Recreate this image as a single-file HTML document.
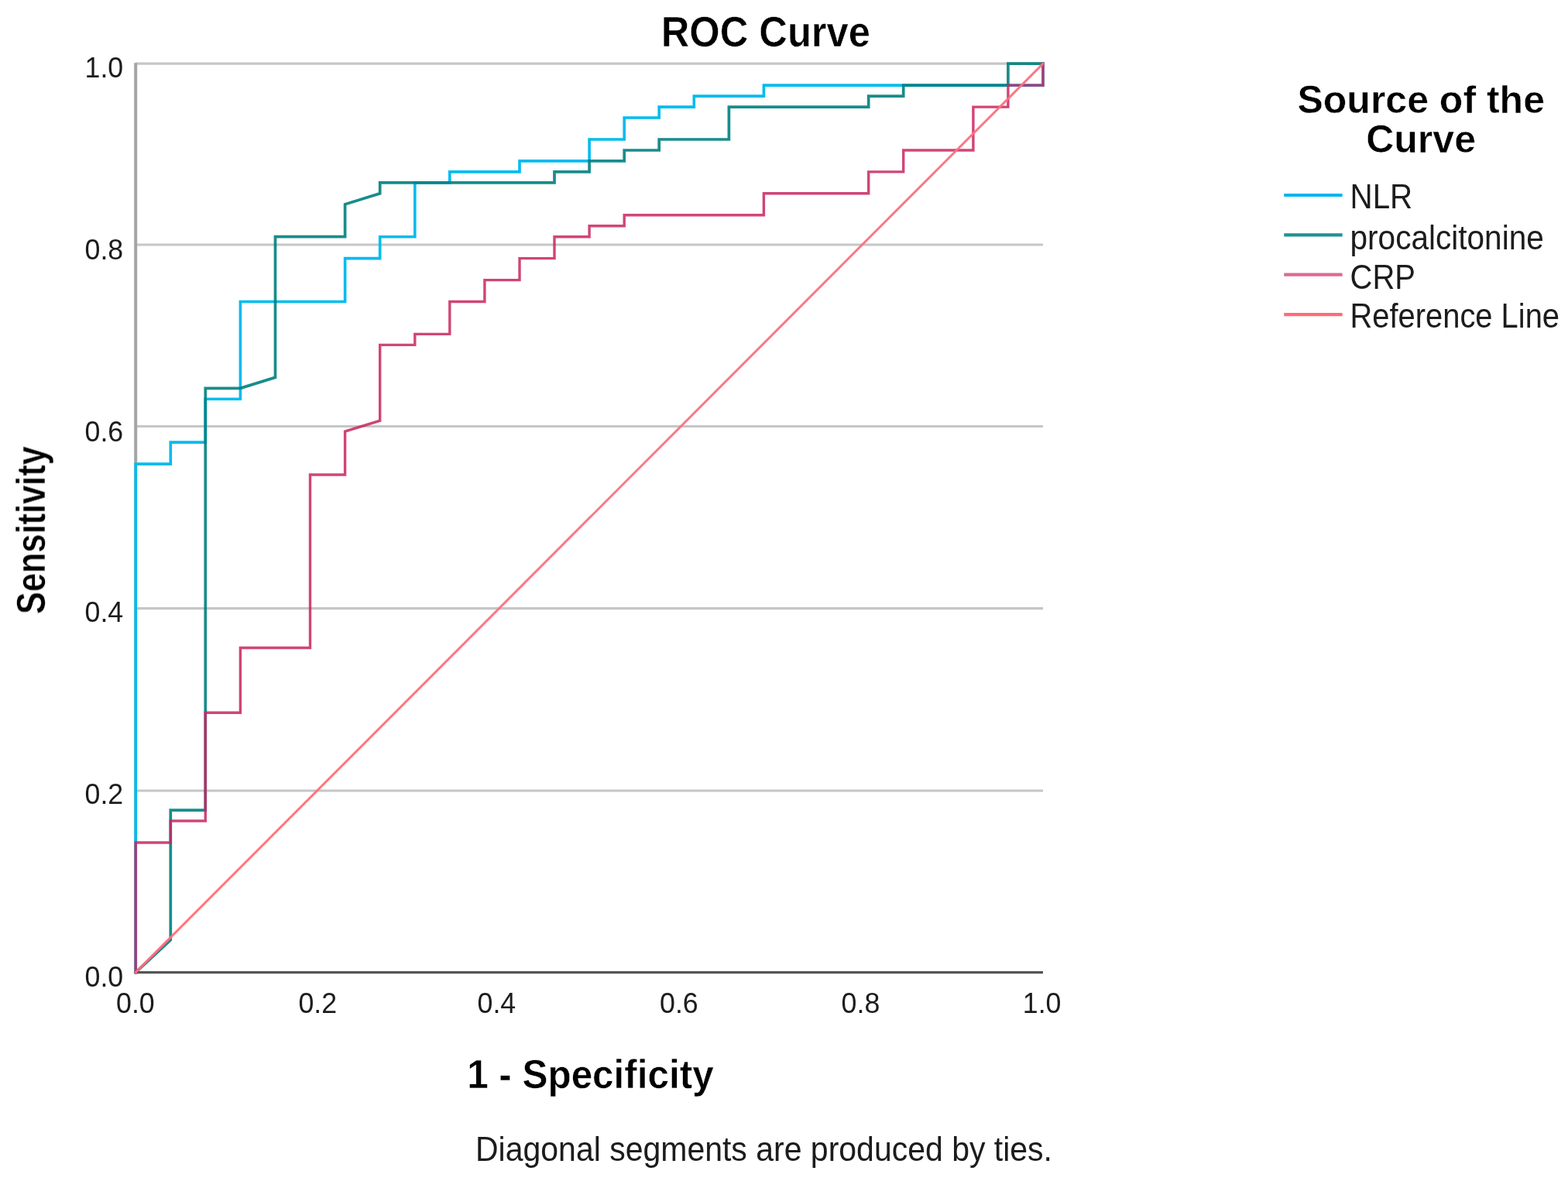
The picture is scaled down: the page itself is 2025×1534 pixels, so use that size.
<!DOCTYPE html>
<html lang="en">
<head>
<meta charset="utf-8">
<title>ROC Curve</title>
<style>
html,body{margin:0;padding:0;background:#fff;}
body{width:2025px;height:1534px;overflow:hidden;}
svg{display:block;}
text{font-family:"Liberation Sans",Arial,Helvetica,sans-serif;}
</style>
</head>
<body>
<svg width="2025" height="1534" viewBox="0 0 2025 1534">
<defs><filter id="soft" x="-5%" y="-5%" width="110%" height="110%"><feGaussianBlur stdDeviation="0.55"/></filter><filter id="softt" x="-2%" y="-2%" width="104%" height="104%"><feGaussianBlur stdDeviation="0.45"/></filter></defs>
<rect width="2025" height="1534" fill="#ffffff"/>
<g stroke="#c6c6c6" stroke-width="3.2" filter="url(#soft)"><line x1="175.2" y1="1021.0" x2="1347.0" y2="1021.0"/><line x1="175.2" y1="785.6" x2="1347.0" y2="785.6"/><line x1="175.2" y1="550.5" x2="1347.0" y2="550.5"/><line x1="175.2" y1="316.0" x2="1347.0" y2="316.0"/><line x1="175.2" y1="82.1" x2="1347.0" y2="82.1"/></g>
<g filter="url(#soft)"><line x1="175.2" y1="81.2" x2="175.2" y2="1257.1" stroke="#a4a4a4" stroke-width="4"/><line x1="173.7" y1="1255.6" x2="1347.0" y2="1255.6" stroke="#555555" stroke-width="3.4"/></g>
<g fill="none" stroke-width="3.4" stroke-linejoin="miter" stroke-linecap="square" filter="url(#soft)">
<path stroke="#00bcee" stroke-width="3.6" d="M175.2 1255.6 L175.2 599.1 L220.3 599.1 L220.3 571.1 L265.3 571.1 L265.3 515.2 L310.4 515.2 L310.4 389.5 L445.6 389.5 L445.6 333.6 L490.7 333.6 L490.7 305.7 L535.8 305.7 L535.8 235.9 L580.8 235.9 L580.8 221.9 L671.0 221.9 L671.0 207.9 L761.1 207.9 L761.1 180.0 L806.2 180.0 L806.2 152.0 L851.2 152.0 L851.2 138.1 L896.3 138.1 L896.3 124.1 L986.4 124.1 L986.4 110.1 L1347.0 110.1 L1347.0 82.2"/>
<path stroke="#008080" stroke-opacity="0.9" stroke-width="3.7" d="M175.2 1255.6 L220.3 1213.7 L220.3 1046.1 L265.3 1046.1 L265.3 501.3 L310.4 501.3 L355.5 487.3 L355.5 305.7 L445.6 305.7 L445.6 263.8 L490.7 249.8 L490.7 235.9 L716.0 235.9 L716.0 221.9 L761.1 221.9 L761.1 207.9 L806.2 207.9 L806.2 194.0 L851.2 194.0 L851.2 180.0 L941.4 180.0 L941.4 138.1 L1121.7 138.1 L1121.7 124.1 L1166.7 124.1 L1166.7 110.1 L1301.9 110.1 L1301.9 82.2 L1347.0 82.2"/>
<path stroke="#c8245f" stroke-opacity="0.85" stroke-width="3.4" d="M175.2 1255.6 L175.2 1088.0 L220.3 1088.0 L220.3 1060.0 L265.3 1060.0 L265.3 920.3 L310.4 920.3 L310.4 836.5 L400.5 836.5 L400.5 613.0 L445.6 613.0 L445.6 557.1 L490.7 543.2 L490.7 445.4 L535.8 445.4 L535.8 431.4 L580.8 431.4 L580.8 389.5 L625.9 389.5 L625.9 361.6 L671.0 361.6 L671.0 333.6 L716.0 333.6 L716.0 305.7 L761.1 305.7 L761.1 291.7 L806.2 291.7 L806.2 277.8 L986.4 277.8 L986.4 249.8 L1121.7 249.8 L1121.7 221.9 L1166.7 221.9 L1166.7 194.0 L1256.9 194.0 L1256.9 138.1 L1301.9 138.1 L1301.9 110.1 L1347.0 110.1 L1347.0 82.2"/>
<path stroke="#ff6f7c" stroke-opacity="0.95" stroke-width="3.0" d="M175.2 1255.6 L1347.0 82.2"/>
</g>
<g filter="url(#softt)">
<g font-size="36.5" fill="#1c1c1c"><text x="159.2" y="99.8" text-anchor="end" textLength="49.7" lengthAdjust="spacingAndGlyphs">1.0</text><text x="159.2" y="335.0" text-anchor="end" textLength="49.7" lengthAdjust="spacingAndGlyphs">0.8</text><text x="159.2" y="570.4" text-anchor="end" textLength="49.7" lengthAdjust="spacingAndGlyphs">0.6</text><text x="159.2" y="802.6" text-anchor="end" textLength="49.7" lengthAdjust="spacingAndGlyphs">0.4</text><text x="159.2" y="1037.6" text-anchor="end" textLength="49.7" lengthAdjust="spacingAndGlyphs">0.2</text><text x="159.2" y="1273.8" text-anchor="end" textLength="49.7" lengthAdjust="spacingAndGlyphs">0.0</text><text x="174.85" y="1307.9" text-anchor="middle" textLength="49.7" lengthAdjust="spacingAndGlyphs">0.0</text><text x="410.25" y="1307.9" text-anchor="middle" textLength="49.7" lengthAdjust="spacingAndGlyphs">0.2</text><text x="641.35" y="1307.9" text-anchor="middle" textLength="49.7" lengthAdjust="spacingAndGlyphs">0.4</text><text x="876.90" y="1307.9" text-anchor="middle" textLength="49.7" lengthAdjust="spacingAndGlyphs">0.6</text><text x="1111.45" y="1307.9" text-anchor="middle" textLength="49.7" lengthAdjust="spacingAndGlyphs">0.8</text><text x="1345.60" y="1307.9" text-anchor="middle" textLength="49.7" lengthAdjust="spacingAndGlyphs">1.0</text></g>
<text x="988.8" y="59.7" text-anchor="middle" font-size="56" font-weight="bold" fill="#000" stroke="#fff" stroke-width="0.5" textLength="270" lengthAdjust="spacingAndGlyphs">ROC Curve</text>
<text transform="translate(58.0 684.6) rotate(-90)" text-anchor="middle" font-size="51" font-weight="bold" fill="#000" stroke="#fff" stroke-width="0.5" textLength="217" lengthAdjust="spacingAndGlyphs">Sensitivity</text>
<text x="762.4" y="1405" text-anchor="middle" font-size="52.5" font-weight="bold" fill="#000" stroke="#fff" stroke-width="0.5" textLength="318.5" lengthAdjust="spacingAndGlyphs">1 - Specificity</text>
<g font-weight="bold" font-size="50" fill="#000" stroke="#fff" stroke-width="0.5" text-anchor="middle"><text x="1835.2" y="145.9">Source of the</text><text x="1835.1" y="197.3">Curve</text></g>
<g filter="url(#soft)"><line x1="1658.3" y1="252.0" x2="1733.6" y2="252.0" stroke="#00b4ee" stroke-width="4.2"/><line x1="1658.3" y1="303.4" x2="1733.6" y2="303.4" stroke="#239090" stroke-width="4.2"/><line x1="1658.3" y1="354.7" x2="1733.6" y2="354.7" stroke="#db6a94" stroke-width="4.2"/><line x1="1658.3" y1="406.1" x2="1733.6" y2="406.1" stroke="#ff6a78" stroke-width="4.2"/></g>
<g font-size="43.5" fill="#1c1c1c"><text x="1743.5" y="269.1" textLength="80.7" lengthAdjust="spacingAndGlyphs">NLR</text><text x="1743.5" y="321.6" textLength="250.3" lengthAdjust="spacingAndGlyphs">procalcitonine</text><text x="1743.5" y="373.0" textLength="84.5" lengthAdjust="spacingAndGlyphs">CRP</text><text x="1743.5" y="423.3" textLength="270.5" lengthAdjust="spacingAndGlyphs">Reference Line</text></g>
<text x="614" y="1498.7" font-size="43.5" fill="#1c1c1c" textLength="745" lengthAdjust="spacingAndGlyphs">Diagonal segments are produced by ties.</text>
</g>
</svg>
</body>
</html>
